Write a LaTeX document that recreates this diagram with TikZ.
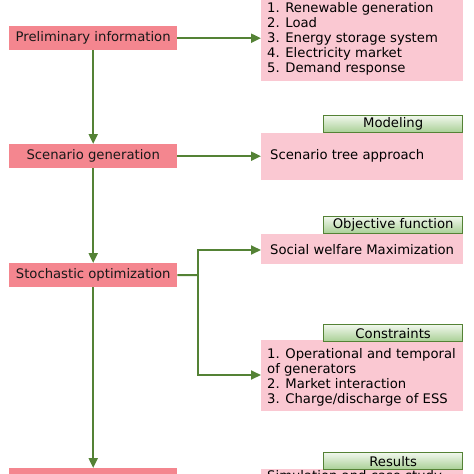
\documentclass[tikz,border=0pt]{standalone}
\usepackage{fontspec}
\setmainfont{DejaVu Sans}
\usetikzlibrary{arrows.meta}
\definecolor{salmon}{HTML}{F4868F}
\definecolor{lpink}{HTML}{FAC8D2}
\definecolor{dgreen}{HTML}{548235}
\definecolor{hdtop}{HTML}{F0F7EC}
\definecolor{hdbot}{HTML}{A8CF94}
\tikzset{
  stepbox/.style={fill=salmon, minimum width=168pt, minimum height=24pt, inner sep=0pt, anchor=north west, text=black!90},
  infobox/.style={fill=lpink, anchor=north west, inner sep=0pt},
  infotext/.style={anchor=north west, inner sep=0pt, align=left, font=\fontsize{13.2}{15}\selectfont},
  header/.style={draw=dgreen, line width=1.3pt, top color=hdtop, bottom color=hdbot, minimum width=139pt, minimum height=17pt, inner sep=0pt, anchor=north west},
  flow/.style={draw=dgreen, line width=2pt, -{Triangle[length=10pt,width=9pt]}},
  plain/.style={draw=dgreen, line width=2pt}
}
\begin{document}
\begin{tikzpicture}[x=1pt,y=-1pt, font=\fontsize{13.2}{15}\selectfont]
\useasboundingbox (0,0) rectangle (474,474);
\clip (0,0) rectangle (474,474);
% left steps
\node[stepbox] (p1) at (9,26) {Preliminary information};
\node[stepbox] (p2) at (9,144) {Scenario generation};
\node[stepbox] (p3) at (9,263) {Stochastic optimization};
\node[stepbox] (p4) at (9,468) {};
% right info boxes
\node[infobox, minimum width=202pt, minimum height=89pt] (b1) at (261,-8) {};
\node[infotext] (t1) at (267,2) {1. Renewable generation\\2. Load\\3. Energy storage system\\4. Electricity market\\5. Demand response};
\node[infobox, minimum width=202pt, minimum height=47pt] (b2) at (261,133) {};
\node[anchor=west, inner sep=0pt] (t2) at (270,156) {Scenario tree approach};
\node[header] (h2) at (323,115) {Modeling};
\node[infobox, minimum width=202pt, minimum height=30pt] (b3) at (261,234) {};
\node[anchor=west, inner sep=0pt] (t3) at (270,250) {Social welfare Maximization};
\node[header] (h3) at (323,216) {Objective function};
\node[infobox, minimum width=202pt, minimum height=71pt] (b4) at (261,340) {};
\node[infotext] (t4) at (267,348) {1. Operational and temporal\\of generators\\2. Market interaction\\3. Charge/discharge of ESS};
\node[header] (h4) at (323,324) {Constraints};
\node[infobox, minimum width=202pt, minimum height=20pt] (b5) at (261,469) {};
\node[anchor=north west, inner sep=0pt] (t5) at (267,470.5) {Simulation and case study};
\node[header] (h5) at (323,452) {Results};
% connectors
\coordinate (s) at (198,275);
\draw[flow] (p1.east) -- (b1.west |- p1.east);
\draw[flow] (p2.east) -- (b2.west |- p2.east);
\draw[plain] (p3.east) -- (s);
\draw[flow] (s) |- (261,250);
\draw[flow] (s) |- (261,375);
\draw[flow] (p1.south) -- (p2.north);
\draw[flow] (p2.south) -- (p3.north);
\draw[flow] (p3.south) -- (p4.north);
\end{tikzpicture}
\end{document}
